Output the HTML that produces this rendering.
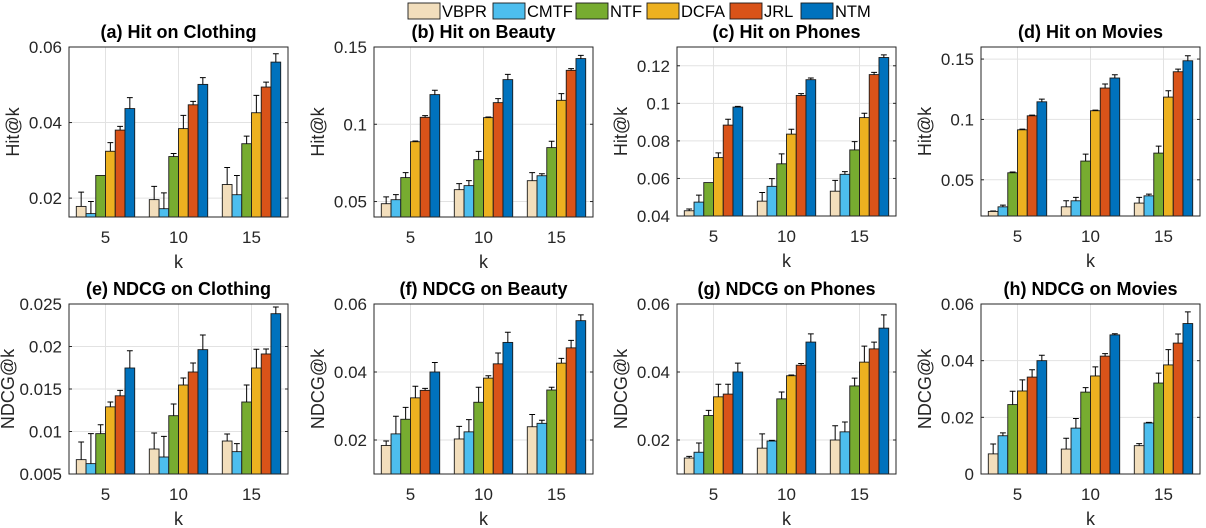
<!DOCTYPE html>
<html><head><meta charset="utf-8"><style>
html,body{margin:0;padding:0;background:#fff;width:1206px;height:528px;overflow:hidden}
svg{display:block;font-family:"Liberation Sans",Arial,sans-serif}
</style></head><body>
<svg id="c" width="1206" height="528" viewBox="0 0 1206 528"></svg>
<script>
const methods = ["VBPR","CMTF","NTF","DCFA","JRL","NTM"];
const categories = ["5","10","15"];
// values per method (rows) for k=5,10,15
const hitClothing = [[0.0178,0.0196,0.0236],[0.0159,0.0172,0.0209],[0.026,0.031,0.0344],[0.0324,0.0384,0.0426],[0.038,0.0447,0.0494],[0.0437,0.0501,0.056]];
const hitClothingErr = [[0.0038,0.0035,0.0045],[0.0032,0.0042,0.0051],[0,0.0008,0.002],[0.0023,0.0035,0.0046],[0.001,0.0009,0.0013],[0.0029,0.0018,0.0022]];
const hitBeauty = [[0.0486,0.0577,0.0635],[0.0512,0.0603,0.0667],[0.0655,0.0771,0.0849],[0.0887,0.1043,0.1155],[0.1045,0.114,0.1349],[0.1192,0.1289,0.1425]];
const hitBeautyErr = [[0.0044,0.0039,0.0052],[0.0033,0.0032,0.0013],[0.0032,0.0054,0.0041],[0.0005,0.0004,0.0043],[0.0011,0.0026,0.0011],[0.0028,0.0034,0.0021]];
const hitPhones = [[0.0428,0.0479,0.0532],[0.0474,0.0558,0.0622],[0.0578,0.0678,0.0752],[0.0711,0.0836,0.0924],[0.0884,0.1042,0.1153],[0.098,0.1126,0.1244]];
const hitPhonesErr = [[0.0009,0.0046,0.0058],[0.0037,0.0041,0.0014],[0,0.0053,0.0044],[0.0025,0.0026,0.0023],[0.0031,0.001,0.0012],[0.0004,0.0009,0.0014]];
const hitMovies = [[0.0238,0.0276,0.0307],[0.0276,0.0326,0.0367],[0.0558,0.0655,0.0721],[0.0914,0.1072,0.1185],[0.103,0.126,0.1395],[0.1146,0.1343,0.1486]];
const hitMoviesErr = [[0.0003,0.005,0.0047],[0.0014,0.0028,0.0014],[0.0006,0.0058,0.0058],[0.0006,0.0005,0.0053],[0.0006,0.0033,0.0022],[0.0022,0.0027,0.0042]];
const ndcgClothing = [[0.00669,0.00794,0.00888],[0.00622,0.007,0.00763],[0.00975,0.01186,0.01347],[0.0129,0.01547,0.01747],[0.0142,0.017,0.01912],[0.01747,0.01963,0.02386]];
const ndcgClothingErr = [[0.00207,0.00188,0.00082],[0.00353,0.00243,0.00094],[0.00105,0.00138,0.002],[0.00057,0.00083,0.0022],[0.00064,0.00106,0.00058],[0.00203,0.00172,0.00079]];
const ndcgBeauty = [[0.0184,0.0203,0.0239],[0.0218,0.0224,0.0249],[0.0261,0.0311,0.0347],[0.0324,0.0382,0.0426],[0.0346,0.0424,0.0471],[0.04,0.0487,0.0551]];
const ndcgBeautyErr = [[0.0013,0.0037,0.0036],[0.0052,0.0036,0.0009],[0.0035,0.0044,0.0008],[0.0034,0.0007,0.0014],[0.0006,0.0032,0.0022],[0.0028,0.003,0.0017]];
const ndcgPhones = [[0.0147,0.0176,0.02],[0.0164,0.0197,0.0224],[0.0272,0.0321,0.0359],[0.0327,0.0389,0.0429],[0.0335,0.042,0.0468],[0.04,0.0488,0.0529]];
const ndcgPhonesErr = [[0.0005,0.0042,0.0042],[0.0027,0.0002,0.0029],[0.0015,0.002,0.0023],[0.0037,0.0002,0.0047],[0.0029,0.0005,0.002],[0.0026,0.0024,0.0039]];
const ndcgMovies = [[0.0071,0.0088,0.01],[0.0135,0.0162,0.018],[0.0245,0.0289,0.0321],[0.0293,0.0346,0.0385],[0.0342,0.0416,0.0462],[0.04,0.0491,0.0531]];
const ndcgMoviesErr = [[0.0035,0.0038,0.0007],[0.001,0.0034,0.0002],[0.0047,0.0016,0.0035],[0.0039,0.0032,0.0054],[0.0026,0.0009,0.0032],[0.0019,0.0004,0.0041]];
const ticksA = [0.02,0.04,0.06]; const ticksALabels = ["0.02","0.04","0.06"];
const ticksB = [0.05,0.1,0.15]; const ticksBLabels = ["0.05","0.1","0.15"];
const ticksC = [0.04,0.06,0.08,0.1,0.12]; const ticksCLabels = ["0.04","0.06","0.08","0.1","0.12"];
const ticksE = [0.005,0.01,0.015,0.02,0.025]; const ticksELabels = ["0.005","0.01","0.015","0.02","0.025"];
const ticksF = [0.02,0.04,0.06]; const ticksFLabels = ["0.02","0.04","0.06"];
const ticksH = [0,0.02,0.04,0.06]; const ticksHLabels = ["0","0.02","0.04","0.06"];
const titles = ["(a) Hit on Clothing","(b) Hit on Beauty","(c) Hit on Phones","(d) Hit on Movies","(e) NDCG on Clothing","(f) NDCG on Beauty","(g) NDCG on Phones","(h) NDCG on Movies"];

const colors = ["#F2DEBC","#4DBEEE","#77AC30","#EDB120","#D95319","#0072BD"];
const NS = "http://www.w3.org/2000/svg";
const svg = document.getElementById("c");
function mk(tag, attrs, parent, text){const e=document.createElementNS(NS,tag);for(const k in attrs)e.setAttribute(k,attrs[k]);if(text!==undefined)e.textContent=text;(parent||svg).appendChild(e);return e;}

const panels = [
 {vals:hitClothing,err:hitClothingErr,lo:0.015,hi:0.06,t:ticksA,tl:ticksALabels,yl:"Hit@k",x:69,y:47,h:170,name:"hit-clothing"},
 {vals:hitBeauty,err:hitBeautyErr,lo:0.04,hi:0.15,t:ticksB,tl:ticksBLabels,yl:"Hit@k",x:374,y:47,h:170,name:"hit-beauty"},
 {vals:hitPhones,err:hitPhonesErr,lo:0.04,hi:0.13,t:ticksC,tl:ticksCLabels,yl:"Hit@k",x:677,y:47,h:169,name:"hit-phones"},
 {vals:hitMovies,err:hitMoviesErr,lo:0.02,hi:0.16,t:ticksB,tl:ticksBLabels,yl:"Hit@k",x:981,y:47,h:169,name:"hit-movies"},
 {vals:ndcgClothing,err:ndcgClothingErr,lo:0.005,hi:0.025,t:ticksE,tl:ticksELabels,yl:"NDCG@k",x:69,y:304,h:170,name:"ndcg-clothing"},
 {vals:ndcgBeauty,err:ndcgBeautyErr,lo:0.01,hi:0.06,t:ticksF,tl:ticksFLabels,yl:"NDCG@k",x:374,y:304,h:170,name:"ndcg-beauty"},
 {vals:ndcgPhones,err:ndcgPhonesErr,lo:0.01,hi:0.06,t:ticksF,tl:ticksFLabels,yl:"NDCG@k",x:677,y:304,h:170,name:"ndcg-phones"},
 {vals:ndcgMovies,err:ndcgMoviesErr,lo:0,hi:0.06,t:ticksH,tl:ticksHLabels,yl:"NDCG@k",x:981,y:304,h:170,name:"ndcg-movies"}
];
const W = 219;

panels.forEach((p,pi)=>{
  const g = mk("g",{});
  
  
  const ys = v => p.y + p.h - (v-p.lo)/(p.hi-p.lo)*p.h;
  const xs = c => p.x + (c+0.5)/3*W;
  p.t.forEach((tv,i)=>{
    const yy=ys(tv);
    const gl=mk("line",{x1:p.x,x2:p.x+W,y1:yy,y2:yy,stroke:"#e2e2e2","stroke-width":1},g);
    
    
    mk("line",{x1:p.x,x2:p.x+3,y1:yy,y2:yy,stroke:"#262626","stroke-width":1},g);
    mk("line",{x1:p.x+W-3,x2:p.x+W,y1:yy,y2:yy,stroke:"#262626","stroke-width":1},g);
    const tt=mk("text",{x:p.x-7,y:yy+6,"text-anchor":"end","font-size":17,fill:"#262626"},g,p.tl[i]);
    
    
  });
  categories.forEach((c,ci)=>{
    const xx=xs(ci);
    const gl=mk("line",{x1:xx,x2:xx,y1:p.y,y2:p.y+p.h,stroke:"#e2e2e2","stroke-width":1},g);
    
    
    mk("line",{x1:xx,x2:xx,y1:p.y+p.h-3,y2:p.y+p.h,stroke:"#262626","stroke-width":1},g);
    const tt=mk("text",{x:xx,y:p.y+p.h+26,"text-anchor":"middle","font-size":17,fill:"#262626"},g,c);
    
    
  });
  const groupW = W/3*0.8, bw = groupW/6;
  p.vals.forEach((series,mi)=>{
    series.forEach((v,ci)=>{
      const x0 = xs(ci) - groupW/2 + mi*bw;
      const top = ys(v), base = p.y+p.h;
      const r=mk("rect",{x:x0,y:top,width:bw,height:Math.max(0,base-top),fill:colors[mi],stroke:"#1a1a1a","stroke-width":0.9},g);
      
      
      const e = p.err[mi][ci];
      if(e>0){
        const ey=ys(v+e), cx=x0+bw/2;
        const el=mk("path",{d:`M${cx},${top} V${ey} M${cx-bw*0.3},${ey} H${cx+bw*0.3}`,stroke:"#000","stroke-width":1,fill:"none"},g);
        
        
      }
    });
  });
  const box=mk("rect",{x:p.x,y:p.y,width:W,height:p.h,fill:"none",stroke:"#262626","stroke-width":1},g);
  
  
  const ti=mk("text",{x:p.x+W/2,y:p.y-9,"text-anchor":"middle","font-size":18,"font-weight":"bold",fill:"#000"},g,titles[pi]);
  
  
  const xl=mk("text",{x:p.x+W/2,y:p.y+p.h+51,"text-anchor":"middle","font-size":18,fill:"#262626"},g,"k");
  
  
  const cx=p.x-(pi===4?61:56), cy=p.y+p.h/2;
  const yl=mk("text",{x:cx,y:cy+6,"text-anchor":"middle","font-size":18,fill:"#262626",transform:`rotate(-90 ${cx} ${cy})`},g,p.yl);
  
  
});

const legX = [408,493,576,647,730,801];
const lg = mk("g",{});


methods.forEach((m,i)=>{
  const r=mk("rect",{x:legX[i],y:3,width:32,height:16,fill:colors[i],stroke:"#1a1a1a","stroke-width":0.9},lg);
  
  
  const t=mk("text",{x:legX[i]+34,y:17,"font-size":16.5,fill:"#000"},lg,m);
  
  
});
</script>
</body></html>
